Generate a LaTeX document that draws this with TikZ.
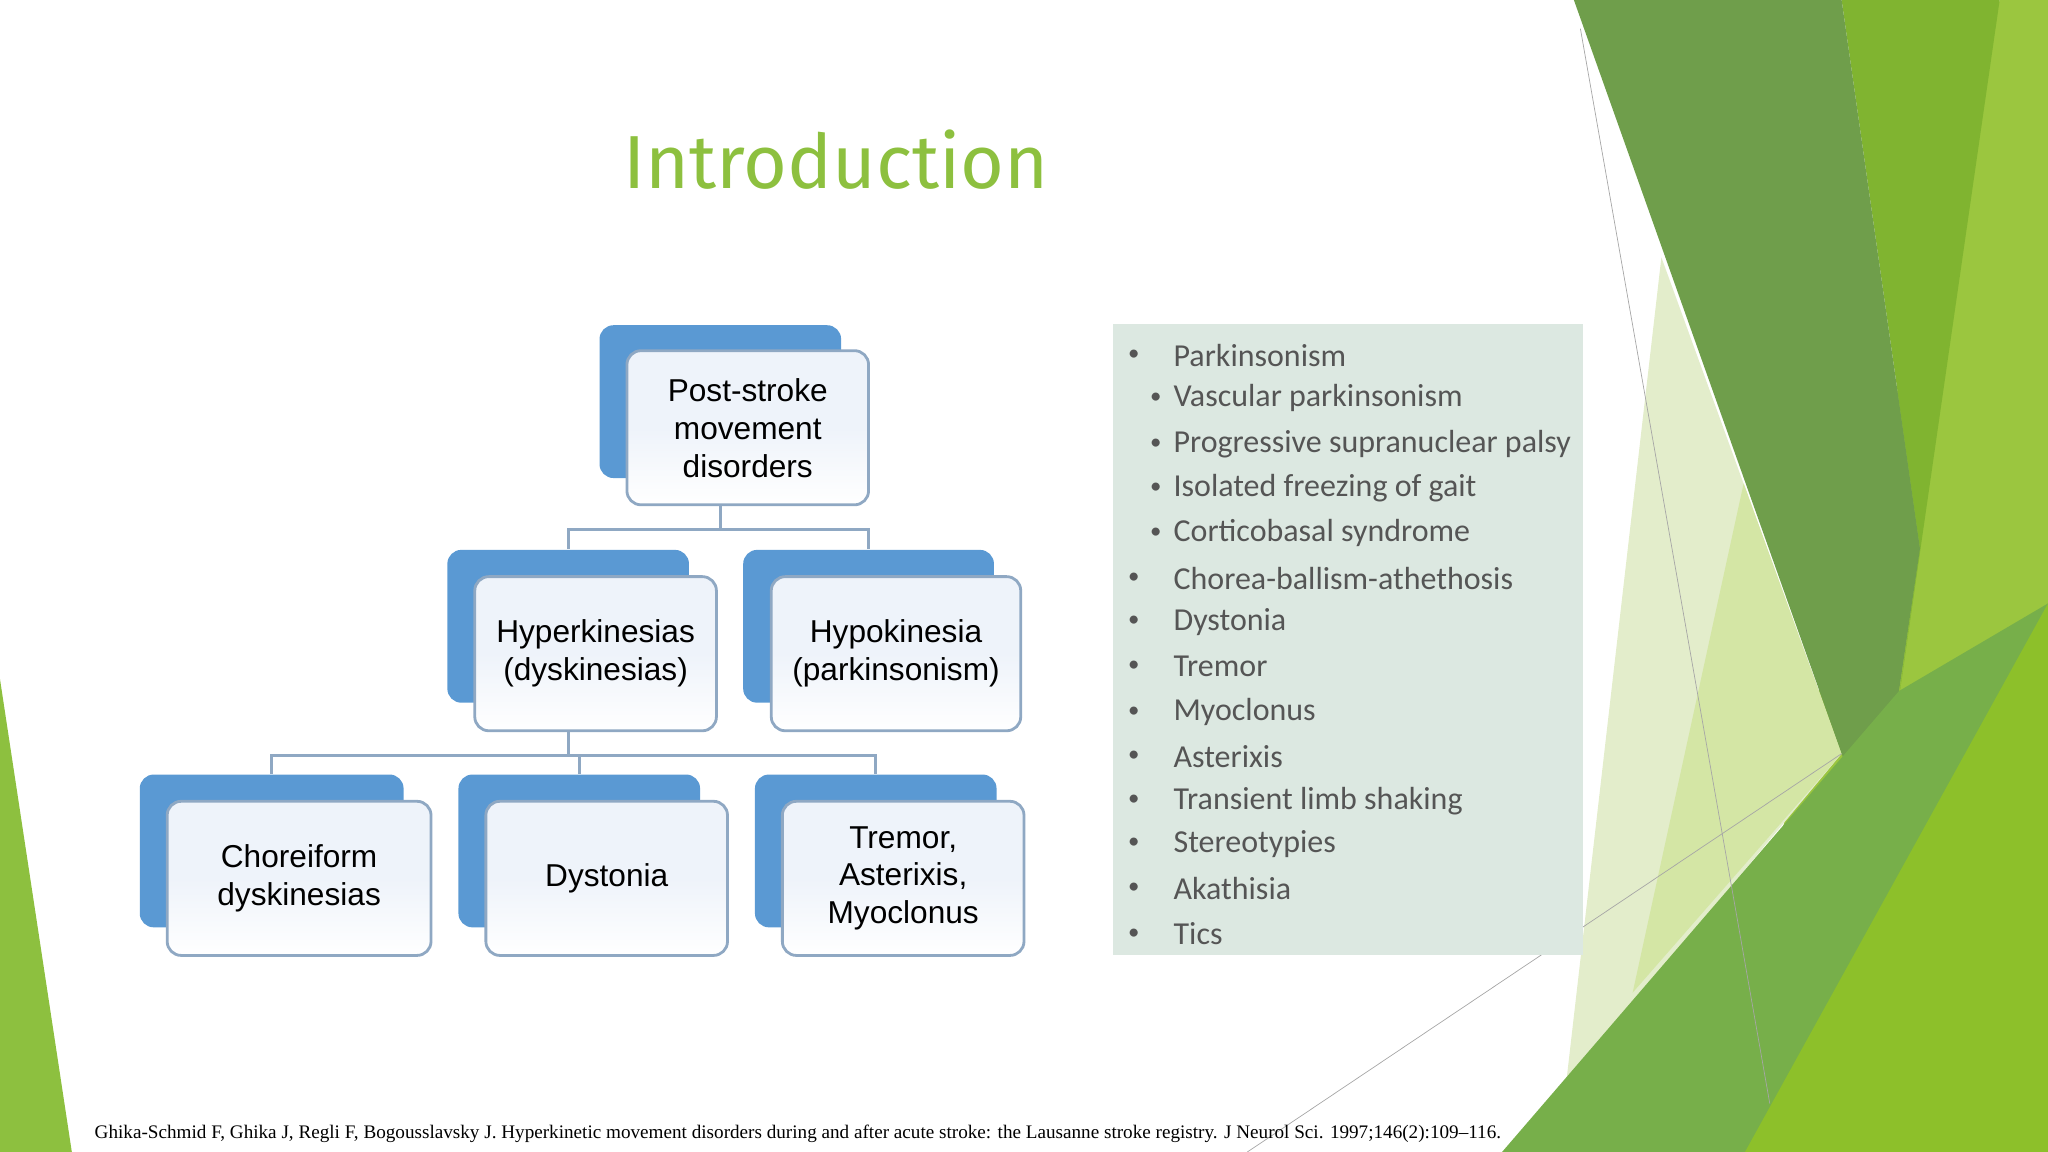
\documentclass[tikz,border=0pt]{standalone}
\usepackage{fontspec}
\setmainfont{Liberation Sans}
\newfontfamily\titlefont{Fira Sans}
\newfontfamily\listfont{Carlito}
\newfontfamily\citefont{Liberation Serif}
\usetikzlibrary{positioning}
\usetikzlibrary{calc}
\usetikzlibrary{backgrounds}

\definecolor{grass}{HTML}{8DC03F}
\definecolor{boxblue}{HTML}{5A99D3}
\definecolor{boxline}{HTML}{8FA8C3}
\definecolor{boxfill}{HTML}{EEF3FA}
\definecolor{panel}{HTML}{DCE8E1}
\definecolor{listgray}{HTML}{555555}

\def\u{0.01306cm}

\begin{document}
\begin{tikzpicture}[x=0.01306cm,y=-0.01306cm,
% Boxes of the chart
    back/.style={rectangle,rounded corners=1.4mm,fill=boxblue,
		minimum width=185*\u,minimum height=117*\u},
    front/.style={rectangle,rounded corners=1.4mm,draw=boxline,thick,
		top color=boxfill,bottom color=white,middle color=boxfill,
		minimum width=185*\u,minimum height=118*\u,align=center,
		font=\fontsize{9}{10.8}\selectfont},
    link/.style={draw=boxline,thick},
% List style
    item/.style={anchor=west,inner sep=0pt,text=listgray,
		font=\listfont\fontsize{9.1}{10}\selectfont},
    dot/.style={anchor=center,inner sep=0pt,text=listgray,
		font=\listfont\fontsize{6.5}{8}\selectfont}
    ]
  \useasboundingbox (0,0) rectangle (1568,882);

% green decoration
  \fill[grass] (0,520) -- (55,882) -- (0,882) -- cycle;
  \fill[fill={rgb,255:red,155;green,198;blue,63}] (1531,0) -- (1568,0) -- (1568,882) -- (1300,882) -- cycle;
  \fill[fill={rgb,255:red,227;green,237;blue,203}] (1272,197) -- (1410,577) -- (1199,830) -- cycle;
  \fill[fill={rgb,255:red,212;green,230;blue,165}] (1335,370) -- (1410,577) -- (1250,760) -- cycle;
  \fill[fill={rgb,255:red,128;green,180;blue,48}] (1410,0) -- (1531,0) -- (1430,700) -- (1470,420) -- cycle;
  \fill[fill={rgb,255:red,111;green,158;blue,75}] (1205,0) -- (1410,0) -- (1470,420) -- (1436,650) -- cycle;
  \fill[fill={rgb,255:red,119;green,175;blue,74}] (1150,882) -- (1454,529) -- (1568,462) -- (1568,882) -- cycle;
  \fill[fill={rgb,255:red,141;green,192;blue,42}] (1336,882) -- (1568,462) -- (1568,882) -- cycle;
  \draw[gray!70,very thin] (1210,22) -- (1355,845);
  \draw[gray!70,very thin] (955,882) -- (1410,577);

% title
  \node (title) at (640,122) {\titlefont\fontsize{21.4}{26}\selectfont\color{grass}Introduction};

% chart
  \node (topb) [back] at (551.5,307.5) {};
  \node (top) [front] at ($(topb)+(21,20)$) {Post-stroke\\movement\\disorders};
  \node (hypb) [back] at (435,479.5) {};
  \node (hyp) [front] at ($(hypb)+(21,21)$) {Hyperkinesias\\(dyskinesias)};
  \node (hpob) [back,minimum width=192*\u] at (665,479.5) {};
  \node (hpo) [front,minimum width=191*\u] at ($(hpob)+(21,21)$) {Hypokinesia\\(parkinsonism)};
  \node (chob) [back,minimum width=202*\u] at (208,651.5) {};
  \node (cho) [front,minimum width=202*\u] at ($(chob)+(21,21)$) {Choreiform\\dyskinesias};
  \node (dysb) [back] at (443.5,651.5) {};
  \node (dys) [front] at ($(dysb)+(21,21)$) {Dystonia};
  \node (trmb) [back] at (670.5,651.5) {};
  \node (trm) [front] at ($(trmb)+(21,21)$) {Tremor,\\Asterixis,\\Myoclonus};

  \draw[link] (topb.south |- top.south) -- ++(0,18) -| (hypb.north);
  \draw[link] (topb.south |- top.south) -- ++(0,18) -| (hpob.north);
  \draw[link] (hypb.south |- hyp.south) -- ++(0,18) -| (chob.north);
  \draw[link] (hypb.south |- hyp.south) -- ++(0,18) -| (dysb.north);
  \draw[link] (hypb.south |- hyp.south) -- ++(0,18) -| (trmb.north);

% list panel
  \fill[panel] (852,248) rectangle (1212,731);
  \foreach \n/\bx/\y/\txt in {
      l1/868/272/Parkinsonism,
      l2/885/305/Vascular parkinsonism,
      l3/885/340/Progressive supranuclear palsy,
      l4/885/374/Isolated freezing of gait,
      l5/885/408/Corticobasal syndrome,
      l6/868/443/Chorea-ballism-athethosis,
      l7/868/476/Dystonia,
      l8/868/510/Tremor,
      l9/868/545/Myoclonus,
      l10/868/579/Asterixis,
      l11/868/613/Transient limb shaking,
      l12/868/646/Stereotypies,
      l13/868/680/Akathisia,
      l14/868/715/Tics} {
    \node (\n d) [dot] at (\bx,\y) {•};
    \node (\n) [item] at (898,\y) {\txt};
  }

% reference
  \node (cite) [anchor=west,inner sep=0pt] at (72,868)
    {\citefont\fontsize{5.45}{6}\selectfont Ghika-Schmid F, Ghika J, Regli F, Bogousslavsky J. Hyperkinetic movement disorders during and after acute stroke: the Lausanne stroke registry. J Neurol Sci. 1997;146(2):109–116.};
\end{tikzpicture}
\end{document}
